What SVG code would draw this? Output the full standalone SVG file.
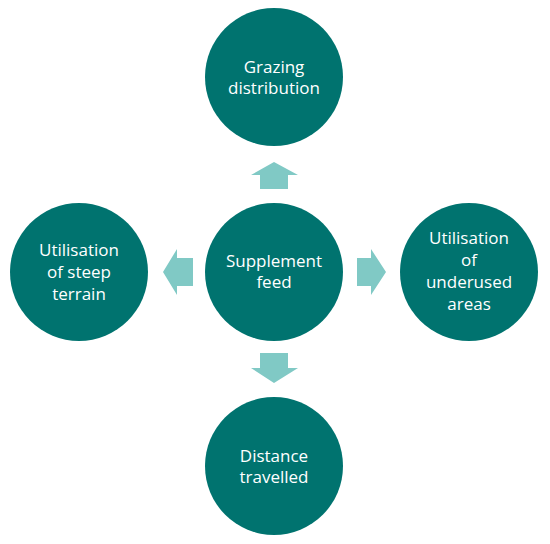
<svg xmlns="http://www.w3.org/2000/svg" width="550" height="544" viewBox="0 0 550 544">
<style>
.node{fill:#00736f}
.arr{fill:#80c9c5}
.lbl{font-family:"Open Sans","Liberation Sans",sans-serif;font-size:17px;fill:#ffffff;text-anchor:middle}
</style>
<rect width="550" height="544" fill="#ffffff"/>
<g id="connectors">
<polygon class="arr" points="274,162 298,175 288,175 288,189 260,189 260,175 251,175"/>
<polygon class="arr" points="274,383 298,368 288,368 288,353 260,353 260,368 251,368"/>
<polygon class="arr" points="163,272 177,249 177,258 193,258 193,286 177,286 177,295"/>
<polygon class="arr" points="386,272 371,249 371,258 357,258 357,286 371,286 371,295"/>
</g>
<g id="center"><circle class="node" cx="274" cy="272" r="69"/>
<text class="lbl" x="274" y="267">Supplement</text><text class="lbl" x="274" y="288">feed</text></g>
<g id="top"><circle class="node" cx="274" cy="77" r="69"/>
<text class="lbl" x="274" y="73">Grazing</text><text class="lbl" x="274" y="94">distribution</text></g>
<g id="bottom"><circle class="node" cx="274" cy="466" r="69"/>
<text class="lbl" x="274" y="462">Distance</text><text class="lbl" x="274" y="483">travelled</text></g>
<g id="left"><circle class="node" cx="79" cy="272" r="69"/>
<text class="lbl" x="79" y="256">Utilisation</text><text class="lbl" x="79" y="278">of steep</text><text class="lbl" x="79" y="300">terrain</text></g>
<g id="right"><circle class="node" cx="469" cy="272" r="69"/>
<text class="lbl" x="469" y="244">Utilisation</text><text class="lbl" x="469" y="266">of</text><text class="lbl" x="469" y="288">underused</text><text class="lbl" x="469" y="310">areas</text></g>
</svg>
